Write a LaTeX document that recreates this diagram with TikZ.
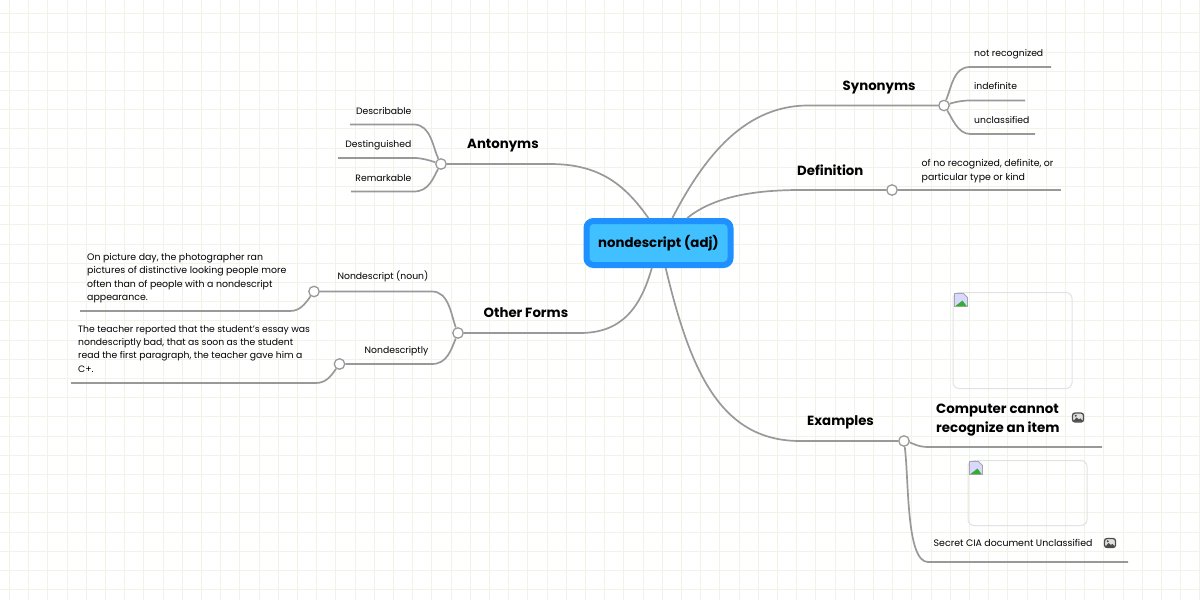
\documentclass[tikz,border=0pt]{standalone}
\usepackage{fontspec}
\setmainfont{Poppins}
\definecolor{gridc}{HTML}{EEF4E8}
\definecolor{linec}{HTML}{999999}
\definecolor{boxc}{HTML}{E2E2E2}
\definecolor{rootborder}{HTML}{1E90FF}
\definecolor{rootfill}{HTML}{40C0FF}
\tikzset{
    knob/.style={circle, draw=linec, fill=white, line width=1.3, minimum size=10.5, inner sep=0},
    branch/.style={draw=linec, line width=1.7},
    big/.style={font=\fontsize{13.3}{19}\bfseries, inner sep=0, align=left},
    small/.style={font=\fontsize{9.25}{13.4}\selectfont, inner sep=0, align=left},
    wider/.style={font=\fontsize{9.4}{13.4}\selectfont},
    imgbox/.style={draw=boxc, line width=1, rounded corners=6},
}
\newcommand{\drawbroken}[2]{
    % Broken image glyph
    \fill[blue!15, draw=black!35, line width=.8] (#1,#2) -- (#1+9,#2) -- (#1+13,#2+4) -- (#1+13,#2+13) -- (#1,#2+13) -- cycle;
    \fill[green!60!black!80] (#1+1,#2+12.5) -- (#1+8,#2+7) -- (#1+12,#2+12.5) -- cycle;
}
\newcommand{\drawpicicon}[2]{
    % Picture glyph
    \draw[black!70, fill=black!12, line width=1.3, rounded corners=2.5] (#1-5.5,#2-4.5) rectangle (#1+5.5,#2+4.5);
    \fill[black!70] (#1-5,#2+4) -- (#1-1.5,#2) -- (#1+1,#2+2) -- (#1+2.5,#2+.8) -- (#1+5,#2+4) -- cycle;
    \fill[black!70] (#1-2.3,#2-1.8) circle [radius=1.1];
}
\begin{document}
\begin{tikzpicture}[x=1pt, y=-1pt]
    \useasboundingbox (0,0) rectangle (1200,600);
    % Grid
    \foreach \i in {0,...,62} {
        \draw[gridc, line width=1] ({9.5+19.2*\i},0) -- ({9.5+19.2*\i},600);
    }
    \foreach \i in {0,...,30} {
        \draw[gridc, line width=1] (0,{13.7+19.2*\i}) -- (1200,{13.7+19.2*\i});
    }

    % Central node
    \node[draw=rootborder, fill=rootfill, line width=6, rounded corners=7, minimum width=144, minimum height=44,
        inner sep=0, font=\fontsize{13.3}{18}\bfseries] (root) at (658.5,243) {nondescript (adj)};

    % Knobs
    \node[knob] (antonyms) at (441,164) {};
    \node[knob] (others) at (458,333) {};
    \node[knob] (noun) at (314,291.5) {};
    \node[knob] (adverb) at (339.5,364) {};
    \node[knob] (synonyms) at (944,105.5) {};
    \node[knob] (definition) at (892,190) {};
    \node[knob] (examples) at (904,441) {};

    % Main branches
    \draw[branch] (antonyms) -- (550,164) .. controls (600,164) and (625,185) .. (root.112.8);
    \draw[branch] (others) -- (580,333) .. controls (620,333) and (640,310) .. (root.255.4);
    \draw[branch] (synonyms) -- (808,105.5) .. controls (740,105.5) and (700,165) .. (root.61.6);
    \draw[branch] (definition) -- (800,190) .. controls (750,190) and (712,198) .. (root.41.3);
    \draw[branch] (examples) -- (800,441) .. controls (720,441) and (690,370) .. (root.286.7);

    % Antonyms leaves
    \coordinate (describable) at (350,124.5);
    \coordinate (destinguished) at (338,158);
    \coordinate (remarkable) at (351,191.5);
    \draw[branch] (antonyms) .. controls (433,148) and (431,124.5) .. (414,124.5) -- (describable);
    \draw[branch] (antonyms) .. controls (428,160) and (422,158) .. (414,158) -- (destinguished);
    \draw[branch] (antonyms) .. controls (433,178) and (429,191.5) .. (414,191.5) -- (remarkable);

    % Other forms leaves
    \coordinate (nounend) at (80,311);
    \coordinate (adverbend) at (71,383);
    \draw[branch] (others) .. controls (451,315) and (449,291.5) .. (432,291.5) -- (noun);
    \draw[branch] (others) .. controls (451,350) and (447,364) .. (432,364) -- (adverb);
    \draw[branch] (noun) .. controls (305,304) and (300,311) .. (290,311) -- (nounend);
    \draw[branch] (adverb) .. controls (331,376) and (326,383) .. (316,383) -- (adverbend);

    % Synonyms leaves
    \coordinate (notrecog) at (1051,67);
    \coordinate (indefinite) at (1025,100.5);
    \coordinate (unclassified) at (1035,134);
    \draw[branch] (synonyms) .. controls (952,85) and (954,67) .. (970,67) -- (notrecog);
    \draw[branch] (synonyms) .. controls (952,103) and (960,100.5) .. (970,100.5) -- (indefinite);
    \draw[branch] (synonyms) .. controls (952,118) and (958,134) .. (970,134) -- (unclassified);

    % Definition and examples leaves
    \coordinate (defend) at (1061,190);
    \coordinate (computer) at (1102,447);
    \coordinate (secret) at (1128,562);
    \draw[branch] (definition) -- (defend);
    \draw[branch] (examples) .. controls (912,443) and (918,447) .. (928,447) -- (computer);
    \draw[branch] (examples) .. controls (909,480) and (906,562) .. (928,562) -- (secret);

    % Labels
    \node[big, anchor=base west] (antonymslabel) at (467,148) {Antonyms};
    \node[big, anchor=base west] (otherslabel) at (483.5,317) {Other Forms};
    \node[big, anchor=base west] (synonymslabel) at (842.5,90) {Synonyms};
    \node[big, anchor=base west] (definitionlabel) at (797,175) {Definition};
    \node[big, anchor=base west] (exampleslabel) at (807,425) {Examples};
    \node[small, anchor=base east] (describablelabel) at (411.5,114) {Describable};
    \node[small, anchor=base east] (destinguishedlabel) at (411.5,147) {Destinguished};
    \node[small, anchor=base east] (remarkablelabel) at (411.5,181) {Remarkable};
    \node[small, anchor=base east] (nounlabel) at (428.5,279.5) {Nondescript (noun)};
    \node[small, anchor=base east] (adverblabel) at (428.5,353.5) {Nondescriptly};
    \node[small, wider, anchor=north west] (nountext) at (87,253) {On picture day, the photographer ran\\pictures of distinctive looking people more\\often than of people with a nondescript\\appearance.};
    \node[small, anchor=north west] (adverbtext) at (78,325) {The teacher reported that the student's essay was\\nondescriptly bad, that as soon as the student\\read the first paragraph, the teacher gave him a\\C+.};
    \node[small, anchor=base west] (notrecoglabel) at (974,56) {not recognized};
    \node[small, anchor=base west] (indefinitelabel) at (974,89.5) {indefinite};
    \node[small, anchor=base west] (unclassifiedlabel) at (974,123) {unclassified};
    \node[small, wider, anchor=north west] (deftext) at (921.5,159.5) {of no recognized, definite, or\\particular type or kind};
    \node[big, anchor=north west, font=\fontsize{13.4}{19}\bfseries] (computertext) at (936,404) {Computer cannot\\recognize an item};
    \node[small, wider, anchor=base west] (secrettext) at (933.5,546.5) {Secret CIA document Unclassified};

    % Images
    \draw[imgbox] (953,292.5) rectangle (1072,388.5);
    \draw[imgbox] (968,460.5) rectangle (1087,525.5);
    \drawbroken{954.5}{293.5}
    \drawbroken{969.5}{461.5}
    \drawpicicon{1078}{417.5}
    \drawpicicon{1110}{543}
\end{tikzpicture}
\end{document}
